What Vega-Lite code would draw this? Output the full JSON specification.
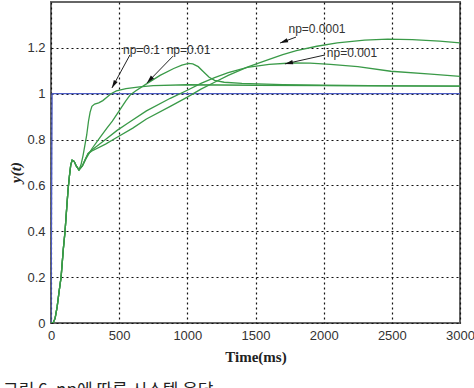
{
  "$schema": "https://vega.github.io/schema/vega-lite/v6.json",
  "autosize": {"type": "none"},
  "width": 409,
  "height": 321,
  "padding": {"left": 51, "top": 2, "right": 14, "bottom": 65},
  "background": "white",
  "title": {"text": "그림 6. np에 따른 시스템 응답", "orient": "bottom", "anchor": "start", "frame": "group", "dx": -48, "offset": 19, "font": "Noto Sans CJK KR", "fontSize": 17, "fontWeight": "normal", "color": "#222"},
  "config": {
    "view": {"stroke": "#666666", "strokeWidth": 2},
    "axis": {"domain": false, "ticks": false, "grid": true, "gridColor": "#111111", "gridDash": [2, 3], "gridWidth": 1.2, "gridOpacity": 1, "labelFont": "Liberation Sans", "labelFontSize": 13, "labelColor": "#333333", "titleColor": "#222222"}
  },
  "datasets": {
    "curves": [
      {"series": "ref", "t": 0, "y": 0}, {"series": "ref", "t": 8, "y": 1}, {"series": "ref", "t": 3000, "y": 1},

      {"series": "np=0.1", "t": 0, "y": 0}, {"series": "np=0.1", "t": 15, "y": 0}, {"series": "np=0.1", "t": 30, "y": 0.02}, {"series": "np=0.1", "t": 45, "y": 0.07}, {"series": "np=0.1", "t": 60, "y": 0.14}, {"series": "np=0.1", "t": 74, "y": 0.2}, {"series": "np=0.1", "t": 90, "y": 0.32}, {"series": "np=0.1", "t": 103, "y": 0.4}, {"series": "np=0.1", "t": 115, "y": 0.5}, {"series": "np=0.1", "t": 125, "y": 0.58}, {"series": "np=0.1", "t": 135, "y": 0.64}, {"series": "np=0.1", "t": 145, "y": 0.69}, {"series": "np=0.1", "t": 155, "y": 0.71}, {"series": "np=0.1", "t": 170, "y": 0.705}, {"series": "np=0.1", "t": 185, "y": 0.685}, {"series": "np=0.1", "t": 205, "y": 0.668},
      {"series": "np=0.1", "t": 220, "y": 0.69}, {"series": "np=0.1", "t": 235, "y": 0.73}, {"series": "np=0.1", "t": 250, "y": 0.78}, {"series": "np=0.1", "t": 262, "y": 0.82}, {"series": "np=0.1", "t": 275, "y": 0.88}, {"series": "np=0.1", "t": 287, "y": 0.92}, {"series": "np=0.1", "t": 300, "y": 0.945}, {"series": "np=0.1", "t": 320, "y": 0.955}, {"series": "np=0.1", "t": 350, "y": 0.96}, {"series": "np=0.1", "t": 380, "y": 0.97}, {"series": "np=0.1", "t": 410, "y": 0.985}, {"series": "np=0.1", "t": 440, "y": 1.0}, {"series": "np=0.1", "t": 480, "y": 1.012}, {"series": "np=0.1", "t": 550, "y": 1.022}, {"series": "np=0.1", "t": 650, "y": 1.03}, {"series": "np=0.1", "t": 750, "y": 1.035}, {"series": "np=0.1", "t": 1000, "y": 1.039}, {"series": "np=0.1", "t": 1500, "y": 1.037}, {"series": "np=0.1", "t": 2000, "y": 1.035}, {"series": "np=0.1", "t": 3000, "y": 1.033},

      {"series": "np=0.01", "t": 0, "y": 0}, {"series": "np=0.01", "t": 15, "y": 0}, {"series": "np=0.01", "t": 30, "y": 0.02}, {"series": "np=0.01", "t": 45, "y": 0.07}, {"series": "np=0.01", "t": 60, "y": 0.14}, {"series": "np=0.01", "t": 74, "y": 0.2}, {"series": "np=0.01", "t": 90, "y": 0.32}, {"series": "np=0.01", "t": 103, "y": 0.4}, {"series": "np=0.01", "t": 115, "y": 0.5}, {"series": "np=0.01", "t": 125, "y": 0.58}, {"series": "np=0.01", "t": 135, "y": 0.64}, {"series": "np=0.01", "t": 145, "y": 0.69}, {"series": "np=0.01", "t": 155, "y": 0.71}, {"series": "np=0.01", "t": 170, "y": 0.705}, {"series": "np=0.01", "t": 185, "y": 0.685}, {"series": "np=0.01", "t": 205, "y": 0.668},
      {"series": "np=0.01", "t": 230, "y": 0.685}, {"series": "np=0.01", "t": 260, "y": 0.72}, {"series": "np=0.01", "t": 300, "y": 0.76}, {"series": "np=0.01", "t": 360, "y": 0.81}, {"series": "np=0.01", "t": 410, "y": 0.85}, {"series": "np=0.01", "t": 450, "y": 0.88}, {"series": "np=0.01", "t": 500, "y": 0.925}, {"series": "np=0.01", "t": 550, "y": 0.97}, {"series": "np=0.01", "t": 581, "y": 0.995}, {"series": "np=0.01", "t": 620, "y": 1.012}, {"series": "np=0.01", "t": 706, "y": 1.045}, {"series": "np=0.01", "t": 800, "y": 1.08}, {"series": "np=0.01", "t": 900, "y": 1.11}, {"series": "np=0.01", "t": 960, "y": 1.125}, {"series": "np=0.01", "t": 1010, "y": 1.132}, {"series": "np=0.01", "t": 1040, "y": 1.13}, {"series": "np=0.01", "t": 1080, "y": 1.118}, {"series": "np=0.01", "t": 1120, "y": 1.095}, {"series": "np=0.01", "t": 1160, "y": 1.072}, {"series": "np=0.01", "t": 1200, "y": 1.058}, {"series": "np=0.01", "t": 1270, "y": 1.05}, {"series": "np=0.01", "t": 1400, "y": 1.045}, {"series": "np=0.01", "t": 1700, "y": 1.04}, {"series": "np=0.01", "t": 2000, "y": 1.037}, {"series": "np=0.01", "t": 2500, "y": 1.034}, {"series": "np=0.01", "t": 3000, "y": 1.033},

      {"series": "np=0.001", "t": 0, "y": 0}, {"series": "np=0.001", "t": 15, "y": 0}, {"series": "np=0.001", "t": 30, "y": 0.02}, {"series": "np=0.001", "t": 45, "y": 0.07}, {"series": "np=0.001", "t": 60, "y": 0.14}, {"series": "np=0.001", "t": 74, "y": 0.2}, {"series": "np=0.001", "t": 90, "y": 0.32}, {"series": "np=0.001", "t": 103, "y": 0.4}, {"series": "np=0.001", "t": 115, "y": 0.5}, {"series": "np=0.001", "t": 125, "y": 0.58}, {"series": "np=0.001", "t": 135, "y": 0.64}, {"series": "np=0.001", "t": 145, "y": 0.69}, {"series": "np=0.001", "t": 155, "y": 0.71}, {"series": "np=0.001", "t": 170, "y": 0.705}, {"series": "np=0.001", "t": 185, "y": 0.685}, {"series": "np=0.001", "t": 205, "y": 0.668},
      {"series": "np=0.001", "t": 230, "y": 0.685}, {"series": "np=0.001", "t": 250, "y": 0.712}, {"series": "np=0.001", "t": 272, "y": 0.74}, {"series": "np=0.001", "t": 300, "y": 0.755}, {"series": "np=0.001", "t": 400, "y": 0.8}, {"series": "np=0.001", "t": 485, "y": 0.84}, {"series": "np=0.001", "t": 560, "y": 0.87}, {"series": "np=0.001", "t": 700, "y": 0.925}, {"series": "np=0.001", "t": 875, "y": 0.98}, {"series": "np=0.001", "t": 1000, "y": 1.015}, {"series": "np=0.001", "t": 1100, "y": 1.045}, {"series": "np=0.001", "t": 1200, "y": 1.07}, {"series": "np=0.001", "t": 1300, "y": 1.092}, {"series": "np=0.001", "t": 1440, "y": 1.115}, {"series": "np=0.001", "t": 1600, "y": 1.128}, {"series": "np=0.001", "t": 1760, "y": 1.134}, {"series": "np=0.001", "t": 1900, "y": 1.133}, {"series": "np=0.001", "t": 2050, "y": 1.128}, {"series": "np=0.001", "t": 2250, "y": 1.118}, {"series": "np=0.001", "t": 2492, "y": 1.098}, {"series": "np=0.001", "t": 2787, "y": 1.085}, {"series": "np=0.001", "t": 3000, "y": 1.076},

      {"series": "np=0.0001", "t": 0, "y": 0}, {"series": "np=0.0001", "t": 15, "y": 0}, {"series": "np=0.0001", "t": 30, "y": 0.02}, {"series": "np=0.0001", "t": 45, "y": 0.07}, {"series": "np=0.0001", "t": 60, "y": 0.14}, {"series": "np=0.0001", "t": 74, "y": 0.2}, {"series": "np=0.0001", "t": 90, "y": 0.32}, {"series": "np=0.0001", "t": 103, "y": 0.4}, {"series": "np=0.0001", "t": 115, "y": 0.5}, {"series": "np=0.0001", "t": 125, "y": 0.58}, {"series": "np=0.0001", "t": 135, "y": 0.64}, {"series": "np=0.0001", "t": 145, "y": 0.69}, {"series": "np=0.0001", "t": 155, "y": 0.71}, {"series": "np=0.0001", "t": 170, "y": 0.705}, {"series": "np=0.0001", "t": 185, "y": 0.685}, {"series": "np=0.0001", "t": 205, "y": 0.668},
      {"series": "np=0.0001", "t": 230, "y": 0.685}, {"series": "np=0.0001", "t": 250, "y": 0.712}, {"series": "np=0.0001", "t": 272, "y": 0.738}, {"series": "np=0.0001", "t": 300, "y": 0.75}, {"series": "np=0.0001", "t": 400, "y": 0.78}, {"series": "np=0.0001", "t": 485, "y": 0.81}, {"series": "np=0.0001", "t": 600, "y": 0.85}, {"series": "np=0.0001", "t": 700, "y": 0.89}, {"series": "np=0.0001", "t": 875, "y": 0.945}, {"series": "np=0.0001", "t": 1000, "y": 0.985}, {"series": "np=0.0001", "t": 1100, "y": 1.02}, {"series": "np=0.0001", "t": 1200, "y": 1.05}, {"series": "np=0.0001", "t": 1300, "y": 1.08}, {"series": "np=0.0001", "t": 1440, "y": 1.116}, {"series": "np=0.0001", "t": 1600, "y": 1.15}, {"series": "np=0.0001", "t": 1700, "y": 1.17}, {"series": "np=0.0001", "t": 1800, "y": 1.188}, {"series": "np=0.0001", "t": 1950, "y": 1.207}, {"series": "np=0.0001", "t": 2100, "y": 1.222}, {"series": "np=0.0001", "t": 2300, "y": 1.234}, {"series": "np=0.0001", "t": 2470, "y": 1.238}, {"series": "np=0.0001", "t": 2650, "y": 1.236}, {"series": "np=0.0001", "t": 2850, "y": 1.229}, {"series": "np=0.0001", "t": 3000, "y": 1.222}
    ],
    "arrows": [
      {"label": "np=0.1", "tx": 664, "ty": 1.191, "x": 579, "y": 1.169, "x2": 447, "y2": 1.025},
      {"label": "np=0.01", "tx": 1009, "ty": 1.191, "x": 895, "y": 1.164, "x2": 704, "y2": 1.047},
      {"label": "np=0.0001", "tx": 1951, "ty": 1.282, "x": 1797, "y": 1.247, "x2": 1680, "y2": 1.221},
      {"label": "np=0.001", "tx": 2208, "ty": 1.177, "x": 2010, "y": 1.169, "x2": 1716, "y2": 1.13}
    ]
  },
  "layer": [
    {
      "data": {"name": "curves"},
      "mark": {"type": "line", "strokeWidth": 1.3, "clip": true},
      "encoding": {
        "x": {"field": "t", "type": "quantitative", "scale": {"domain": [0, 3000], "nice": false, "zero": false},
          "axis": {"values": [0, 500, 1000, 1500, 2000, 2500, 3000], "format": "d", "labelPadding": 6, "labelFlush": false, "labelOverlap": false, "grid": true, "title": "Time(ms)", "titleFont": "Liberation Serif", "titleFontSize": 15, "titleFontWeight": "bold", "titlePadding": 7}},
        "y": {"field": "y", "type": "quantitative", "scale": {"domain": [0, 1.4], "nice": false},
          "axis": {"values": [0, 0.2, 0.4, 0.6, 0.8, 1, 1.2], "format": ".1~f", "labelPadding": 6, "labelFlush": false, "labelOverlap": false, "grid": true, "title": "y(t)", "titleFont": "Liberation Serif", "titleFontSize": 15, "titleFontWeight": "bold", "titleFontStyle": "italic", "titleX": -36, "titleY": 170, "titleBaseline": "middle", "titleAngle": -90}},
        "detail": {"field": "series"},
        "color": {"field": "series", "type": "nominal", "legend": null,
          "scale": {"domain": ["ref", "np=0.1", "np=0.01", "np=0.001", "np=0.0001"], "range": ["#4c5cc4", "#3a9a48", "#3a9a48", "#3a9a48", "#3a9a48"]}}
      }
    },
    {
      "data": {"name": "arrows"},
      "mark": {"type": "rule", "color": "#222222", "strokeWidth": 1},
      "encoding": {
        "x": {"field": "x", "type": "quantitative"},
        "y": {"field": "y", "type": "quantitative"},
        "x2": {"field": "x2"},
        "y2": {"field": "y2"}
      }
    },
    {
      "data": {"name": "arrows"},
      "transform": [{"filter": "datum.label == 'np=0.1'"}],
      "mark": {"type": "point", "shape": "M0,0L-0.55,2L0.55,2Z", "filled": true, "color": "#111111", "size": 64, "angle": 208.6, "opacity": 1},
      "encoding": {"x": {"field": "x2", "type": "quantitative"}, "y": {"field": "y2", "type": "quantitative"}}
    },
    {
      "data": {"name": "arrows"},
      "transform": [{"filter": "datum.label == 'np=0.01'"}],
      "mark": {"type": "point", "shape": "M0,0L-0.55,2L0.55,2Z", "filled": true, "color": "#111111", "size": 64, "angle": 222.9, "opacity": 1},
      "encoding": {"x": {"field": "x2", "type": "quantitative"}, "y": {"field": "y2", "type": "quantitative"}}
    },
    {
      "data": {"name": "arrows"},
      "transform": [{"filter": "datum.label == 'np=0.0001'"}],
      "mark": {"type": "point", "shape": "M0,0L-0.55,2L0.55,2Z", "filled": true, "color": "#111111", "size": 64, "angle": 249.4, "opacity": 1},
      "encoding": {"x": {"field": "x2", "type": "quantitative"}, "y": {"field": "y2", "type": "quantitative"}}
    },
    {
      "data": {"name": "arrows"},
      "transform": [{"filter": "datum.label == 'np=0.001'"}],
      "mark": {"type": "point", "shape": "M0,0L-0.55,2L0.55,2Z", "filled": true, "color": "#111111", "size": 64, "angle": 257.3, "opacity": 1},
      "encoding": {"x": {"field": "x2", "type": "quantitative"}, "y": {"field": "y2", "type": "quantitative"}}
    },
    {
      "data": {"name": "arrows"},
      "mark": {"type": "text", "font": "Liberation Sans", "fontSize": 12, "color": "#333333", "align": "center", "baseline": "middle"},
      "encoding": {
        "x": {"field": "tx", "type": "quantitative"},
        "y": {"field": "ty", "type": "quantitative"},
        "text": {"field": "label"}
      }
    }
  ]
}
